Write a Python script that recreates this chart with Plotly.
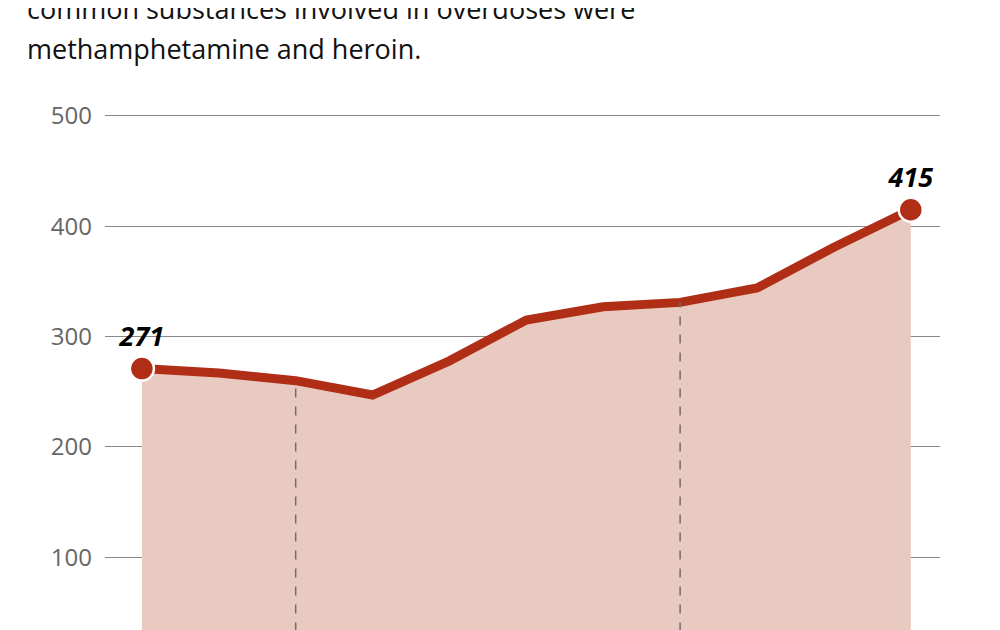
import plotly.graph_objects as go

years = list(range(2009, 2020))
deaths = [271, 267, 260, 247, 278, 315, 327, 331, 344, 381, 415]
y_ticks = [100, 200, 300, 400, 500]
title_lines = ["common substances involved in overdoses were",
               "methamphetamine and heroin."]
dashed_years = [2011, 2016]

RED = "#b02e16"
FILL = "#e8cac0"

fig = go.Figure()
fig.add_trace(go.Scatter(
    x=years, y=deaths, mode="lines",
    line=dict(color=RED, width=9),
    fill="tozeroy", fillcolor=FILL, hoverinfo="skip"
))
# end markers
ends = [0, len(years) - 1]
fig.add_trace(go.Scatter(
    x=[years[i] for i in ends], y=[deaths[i] for i in ends],
    mode="markers+text",
    marker=dict(size=24, color=RED, line=dict(color="white", width=2.5)),
    text=[f"<b><i>{deaths[i]}</i></b>" for i in ends],
    textposition="top center",
    textfont=dict(size=27, color="black", family="Open Sans"),
))

for yr in dashed_years:
    fig.add_shape(type="line", xref="x", yref="y",
                  x0=yr, x1=yr, y0=0, y1=deaths[years.index(yr)],
                  line=dict(color="#7a6a66", width=1.5, dash="dash"), layer="above")

for i, line in enumerate(title_lines):
    fig.add_annotation(text=line, xref="paper", yref="paper",
                       x=-80 / 835, y=1 - (0 + 41 * i) / 630,
                       xanchor="left", yanchor="middle", showarrow=False,
                       font=dict(size=27, color="#111", family="Open Sans"))

fig.update_layout(
    width=1000, height=630,
    margin=dict(l=97, r=68, t=0, b=0),
    paper_bgcolor="white", plot_bgcolor="white",
    showlegend=False,
    xaxis=dict(range=[years[0] - 0.48, years[-1] + 0.38], showgrid=False,
               zeroline=False, showticklabels=False, fixedrange=True),
    yaxis=dict(range=[26.7, 597.9], tickvals=y_ticks, showgrid=True,
               gridcolor="#888", gridwidth=1.3, zeroline=False,
               tickfont=dict(size=24, color="#666", family="Open Sans"),
               ticklabelstandoff=12),
)

fig.write_html("out.html")
